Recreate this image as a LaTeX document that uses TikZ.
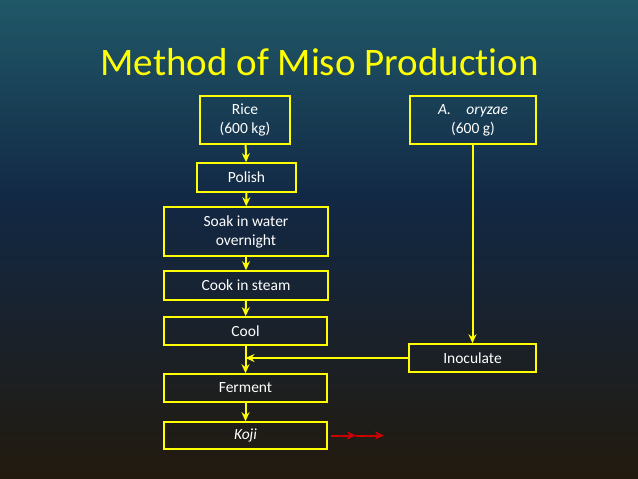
\documentclass[tikz,border=0pt]{standalone}
\usepackage{fontspec}
\setmainfont{Carlito}[Ligatures=NoCommon]
\usetikzlibrary{arrows.meta}
\definecolor{yel}{RGB}{255,255,0}
\definecolor{topc}{RGB}{32,88,104}
\definecolor{midc}{RGB}{18,40,68}
\definecolor{botc}{RGB}{34,26,14}
\begin{document}
\begin{tikzpicture}[x=1pt,y=-1pt,
  box/.style={draw=yel,line width=1.6pt,text=white,font=\fontsize{15.5}{19}\selectfont,align=center,inner sep=0pt},
  arr/.style={yel,line width=2pt,-{Stealth[length=9pt,width=8pt]}}]
\shade[top color=topc,bottom color=midc] (0,0) rectangle (638,200);
\shade[top color=midc,bottom color=botc] (0,200) rectangle (638,479);
\useasboundingbox (0,0) rectangle (638,479);
\node[text=yel,font=\fontsize{39}{44}\selectfont,anchor=west] (title) at (97,62) {Method of Miso Production};
\node[box,minimum width=90pt,minimum height=48pt] (rice) at (245,120) {Rice\\(600 kg)};
\node[box,minimum width=99pt,minimum height=29pt] (polish) at (246.5,177.5) {Polish};
\node[box,minimum width=164pt,minimum height=49pt] (soak) at (246,231.5) {Soak in water\\overnight};
\node[box,minimum width=164pt,minimum height=29pt] (cook) at (246,285.5) {Cook in steam};
\node[box,minimum width=163pt,minimum height=28pt] (cool) at (245.5,331) {Cool};
\node[box,minimum width=163pt,minimum height=28pt] (ferment) at (245.5,388) {Ferment};
\node[box,minimum width=163pt,minimum height=27pt] (koji) at (245.5,435.5) {\itshape Koji};
\node[box,minimum width=126pt,minimum height=48pt] (ory) at (473,120) {\itshape A.\quad oryzae\\(600 g)};
\node[box,minimum width=127pt,minimum height=28pt] (inoc) at (472.5,358) {Inoculate};
\draw[arr] (rice) -- (polish);
\draw[arr] (polish) -- (soak);
\draw[arr] (soak) -- (cook);
\draw[arr] (cook) -- (cool);
\draw[arr] (cool.south) -- (ferment.north);
\draw[arr] (ory.south -| inoc.north) -- (inoc.north);
\coordinate (j) at (245.5,358);
\draw[arr] (inoc.west) -- (j);
\coordinate (r1) at (356,435.5);
\coordinate (r2) at (384,435.5);
\draw[red!80!black,line width=2pt,-{Stealth[length=9pt,width=8pt]}] (koji.east) ++(3,0) -- (r1);
\draw[red!80!black,line width=2pt,-{Stealth[length=9pt,width=8pt]}] (r1) -- (r2);
\draw[arr] (ferment) -- (koji);
\end{tikzpicture}
\end{document}
